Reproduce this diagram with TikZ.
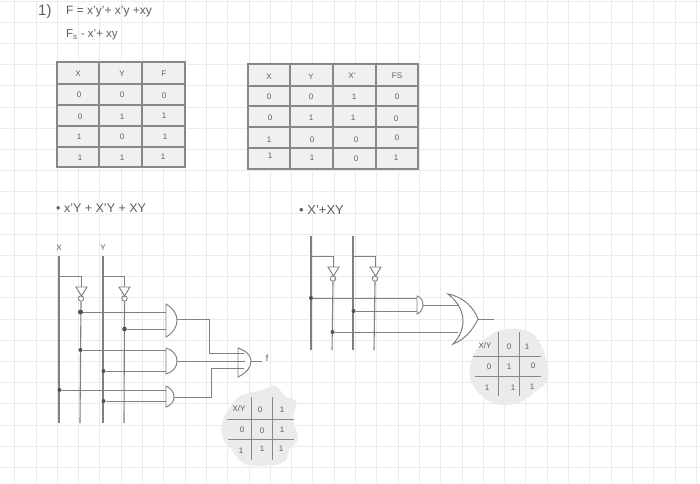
\documentclass[tikz,border=0pt]{standalone}
\usepackage{fontspec}
\setmainfont{Liberation Sans}
\tikzset{
  gridline/.style={draw=gridc,line width=0.8pt},
  tbl/.style={draw=tblc,line width=1.2pt,line cap=rect},
  cell/.style={text=inkc,font=\fontsize{8}{9}\selectfont,inner sep=0pt},
  kcell/.style={text=inkc,font=\fontsize{8}{9}\selectfont,inner sep=0pt},
  hand/.style={text=inkc,inner sep=0pt,anchor=west},
  wire/.style={draw=wirec,line width=1pt},
  bus/.style={draw=wirec,line width=1.1pt},
  gatebody/.style={draw=wirec,line width=0.95pt,fill=white},
  jdot/.style={circle,fill=dotc,inner sep=0pt,minimum size=4pt},
  blob/.style={fill=blobc,draw=none},
  kline/.style={draw=tblc,line width=1pt}
}
\definecolor{gridc}{HTML}{EBEBEB}
\definecolor{tblc}{HTML}{888888}
\definecolor{cellc}{HTML}{F0F0F0}
\definecolor{inkc}{HTML}{5E5E5E}
\definecolor{wirec}{HTML}{808080}
\definecolor{dotc}{HTML}{505050}
\definecolor{blobc}{HTML}{EBEBEB}
\begin{document}
\begin{tikzpicture}[x=1pt,y=-1pt]
\useasboundingbox (0,0) rectangle (700,483);
\fill[white] (0,0) rectangle (700,483);
% paper grid
\foreach \k in {0,...,32} \draw[gridline] ({14.6+21.3*\k},0) -- ({14.6+21.3*\k},483);
\foreach \k in {0,...,22} \draw[gridline] (0,{1+21.2*\k}) -- (700,{1+21.2*\k});

% headings
\node[hand,font=\fontsize{15}{16}\selectfont] (h0) at (38,12) {1)};
\node[hand,font=\fontsize{12}{13}\selectfont] (h1) at (66,12) {F = x'y'+ x'y +xy};
\node[hand,font=\fontsize{11.5}{13}\selectfont] (h2) at (66,35) {F\textsubscript{s} - x'+ xy};
\node[hand,font=\fontsize{12.5}{13}\selectfont] (h3) at (56,208) {• x'Y + X'Y + XY};
\node[hand,font=\fontsize{13}{14}\selectfont] (h4) at (299,210) {• X'+XY};

% table 1
\fill[cellc] (57,62) rectangle (185,167);
\foreach \v in {57,99,142,185} \draw[tbl] (\v,62) -- (\v,167);
\foreach \v in {62,84,105,126,147,167} \draw[tbl] (57,\v) -- (185,\v);
\foreach \px/\py/\t [count=\i] in {
 78/74/X,122/74/Y,164/74/F,
 79/95/0,122/95/0,164/96/0,
 80/117/0,122/117/1,164/116/1,
 79/137/1,122/137/0,165/137/1,
 80/158/1,122/158/1,163/157/1}
  \node[cell] (ta\i) at (\px,\py) {\t};

% table 2
\fill[cellc] (248,64) rectangle (418,169);
\foreach \v in {248,290,333,376,418} \draw[tbl] (\v,64) -- (\v,169);
\foreach \v in {64,86,106,127,148,169} \draw[tbl] (248,\v) -- (418,\v);
\foreach \px/\py/\t [count=\i] in {
 269/77/X,311/77/Y,352/76/X',397/76/FS,
 269/97/0,311/97/0,354/97/1,397/97/0,
 270/118/0,311/118/1,353/118/1,396/119/0,
 269/140/1,312/140/0,356/140/0,397/138/0,
 270/156/1,312/158/1,356/159/0,396/158/1}
  \node[cell] (tb\i) at (\px,\py) {\t};

% circuit 1: named points
\node[cell] (lx) at (59,248) {X};
\node[cell] (ly) at (103,248) {Y};
\coordinate (xt) at (59,256); \coordinate (xb) at (59,423);
\coordinate (yt) at (103,256); \coordinate (yb) at (103,423);
\coordinate (nxb) at (80,423); \coordinate (nyb) at (124,423);
\draw[bus] (xt) -- (xb);
\draw[bus] (yt) -- (yb);
\coordinate (xbr) at (59,276); \coordinate (ybr) at (103,276);
\coordinate (ixt) at (81,287); \coordinate (iyt) at (124.5,287);
\draw[wire] (xbr) -| (ixt);
\draw[wire] (ybr) -| (iyt);
\draw[gatebody] (76,287) -- (87,287) -- (81.5,296) -- cycle;
\draw[gatebody] (119,287) -- (130,287) -- (124.5,296) -- cycle;
\node[draw=wirec,line width=0.9pt,circle,inner sep=0pt,minimum size=5.4pt] (bx) at (81,298.5) {};
\node[draw=wirec,line width=0.9pt,circle,inner sep=0pt,minimum size=5.4pt] (by) at (124.5,298.5) {};
\draw[bus] (bx.south) -- (nxb);
\draw[bus] (by.south) -- (nyb);
% AND gates
\node[jdot,minimum size=5pt] (j1) at (80.5,312) {};
\node[jdot,minimum size=4.6pt] (j2) at (124.5,329) {};
\node[jdot] (j3) at (80.5,350) {};
\node[jdot] (j4) at (103.5,371) {};
\node[jdot] (j5) at (59.5,390) {};
\node[jdot] (j6) at (103.5,401) {};
\coordinate (a1a) at (166,312); \coordinate (a1b) at (166,329); \coordinate (a1o) at (177,319.5);
\coordinate (a2a) at (166,350); \coordinate (a2b) at (166,371); \coordinate (a2o) at (177,361);
\coordinate (a3a) at (166,390); \coordinate (a3b) at (166,401); \coordinate (a3o) at (174,397);
\coordinate (oa) at (238,353); \coordinate (ob) at (238,361); \coordinate (oc) at (238,368);
\coordinate (oo) at (251,361); \coordinate (fe) at (262,361);
\draw[wire] (j1) -- (a1a);
\draw[wire] (j2) -- (a1b);
\draw[wire] (j3) -- (a2a);
\draw[wire] (j4) -- (a2b);
\draw[wire] (j5) -- (a3a);
\draw[wire] (j6) -- (a3b);
\coordinate (m1) at (209,319.5); \coordinate (m3) at (211,397);
\draw[wire] (a1o) -- (m1) |- (oa);
\draw[wire] (a2o) -- (ob);
\draw[wire] (a3o) -- (m3) |- (oc);
\draw[wire] (oo) -- (fe);
\draw[gatebody] (166,304) .. controls (173,308) and (177,314) .. (177,320) .. controls (177,327) and (173,333) .. (166,337) -- cycle;
\draw[gatebody] (166,348) .. controls (173,350) and (177,355) .. (177,361) .. controls (177,367) and (173,372) .. (166,374) -- cycle;
\draw[gatebody] (166,386) .. controls (171,388) and (174,392) .. (174,397) .. controls (174,402) and (171,405) .. (166,407) -- cycle;
\draw[gatebody] (238,348) .. controls (246,351) and (251,355) .. (251,361) .. controls (251,368) and (246,373) .. (238,377) -- cycle;
\draw[wire] (oa) -- (244,353); \draw[wire] (ob) -- (245,361); \draw[wire] (oc) -- (244,368);
\node[cell,font=\fontsize{9}{10}\selectfont] (lf) at (267,358) {f};

% circuit 2
\coordinate (xt2) at (311,236); \coordinate (xb2) at (311,350);
\coordinate (yt2) at (353,236); \coordinate (yb2) at (353,350);
\coordinate (nxb2) at (332,350); \coordinate (nyb2) at (374,350);
\draw[bus] (xt2) -- (xb2);
\draw[bus] (yt2) -- (yb2);
\coordinate (xbr2) at (311,256); \coordinate (ybr2) at (353,256);
\coordinate (ixt2) at (333,267); \coordinate (iyt2) at (375,267);
\draw[wire] (xbr2) -| (ixt2);
\draw[wire] (ybr2) -| (iyt2);
\draw[gatebody] (328,267) -- (339,267) -- (333.5,276) -- cycle;
\draw[gatebody] (370,267) -- (381,267) -- (375.5,276) -- cycle;
\node[draw=wirec,line width=0.9pt,circle,inner sep=0pt,minimum size=5.4pt] (bx2) at (333,278.5) {};
\node[draw=wirec,line width=0.9pt,circle,inner sep=0pt,minimum size=5.4pt] (by2) at (375,278.5) {};
\draw[bus] (bx2.south) -- (nxb2);
\draw[bus] (by2.south) -- (nyb2);
\node[jdot] (k1) at (311,298) {};
\node[jdot] (k2) at (353.5,311) {};
\node[jdot] (k3) at (332.5,332) {};
\coordinate (b1a) at (417,298); \coordinate (b1b) at (417,311); \coordinate (b1o) at (423,305);
\coordinate (r1) at (458,305); \coordinate (r2) at (458,332); \coordinate (ro) at (478,319); \coordinate (re) at (494,319);
\draw[wire] (k1) -- (b1a);
\draw[wire] (k2) -- (b1b);
\draw[wire] (k3) -- (r2);
\draw[wire] (b1o) -- (r1);
\draw[wire] (ro) -- (re);
\draw[gatebody] (417,296) .. controls (421,297) and (423,301) .. (423,305) .. controls (423,309) and (421,312) .. (417,314) -- cycle;
\draw[gatebody,fill=white,line width=1pt] (448,294) .. controls (464,297) and (474,308) .. (478,319) .. controls (473,330) and (464,340) .. (453,344) .. controls (468,328) and (466,308) .. (448,294) -- cycle;

% Karnaugh map 1
\fill[blob] plot[smooth cycle,tension=0.7] coordinates {(240,396) (262,390) (275,386) (285,396) (296,402) (293,420) (298,438) (289,450) (284,462) (262,466) (243,463) (232,450) (222,436) (223,420) (230,408)};
\coordinate (p1t) at (251,397); \coordinate (p1b) at (251,460);
\coordinate (p2t) at (272,397); \coordinate (p2b) at (272,460);
\coordinate (p3l) at (227,419); \coordinate (p3r) at (294,419);
\coordinate (p4l) at (228,439); \coordinate (p4r) at (294,439);
\draw[kline] (p1t) -- (p1b);
\draw[kline] (p2t) -- (p2b);
\draw[kline] (p3l) -- (p3r);
\draw[kline] (p4l) -- (p4r);
\foreach \px/\py/\t [count=\i] in {
 239/409/{X/Y},260/410/0,282/410/1,
 242/430/0,262/431/0,282/430/1,
 241/451/1,262/449/1,281/449/1}
  \node[kcell] (ka\i) at (\px,\py) {\t};

% Karnaugh map 2
\fill[blob] plot[smooth cycle,tension=0.7] coordinates {(490,335) (510,329) (530,332) (541,345) (546,360) (548,380) (535,392) (520,402) (500,405) (482,396) (470,378) (474,355)};
\coordinate (q1t) at (498,332); \coordinate (q1b) at (498,396);
\coordinate (q2t) at (519,332); \coordinate (q2b) at (519,396);
\coordinate (q3l) at (473,356); \coordinate (q3r) at (541,356);
\coordinate (q4l) at (475,376); \coordinate (q4r) at (541,376);
\draw[kline] (q1t) -- (q1b);
\draw[kline] (q2t) -- (q2b);
\draw[kline] (q3l) -- (q3r);
\draw[kline] (q4l) -- (q4r);
\foreach \px/\py/\t [count=\i] in {
 485/346/{X/Y},509/347/0,527/347/1,
 489/367/0,509/367/1,533/366/0,
 487/388/1,513/388/1,532/387/1}
  \node[kcell] (kb\i) at (\px,\py) {\t};
\end{tikzpicture}
\end{document}
